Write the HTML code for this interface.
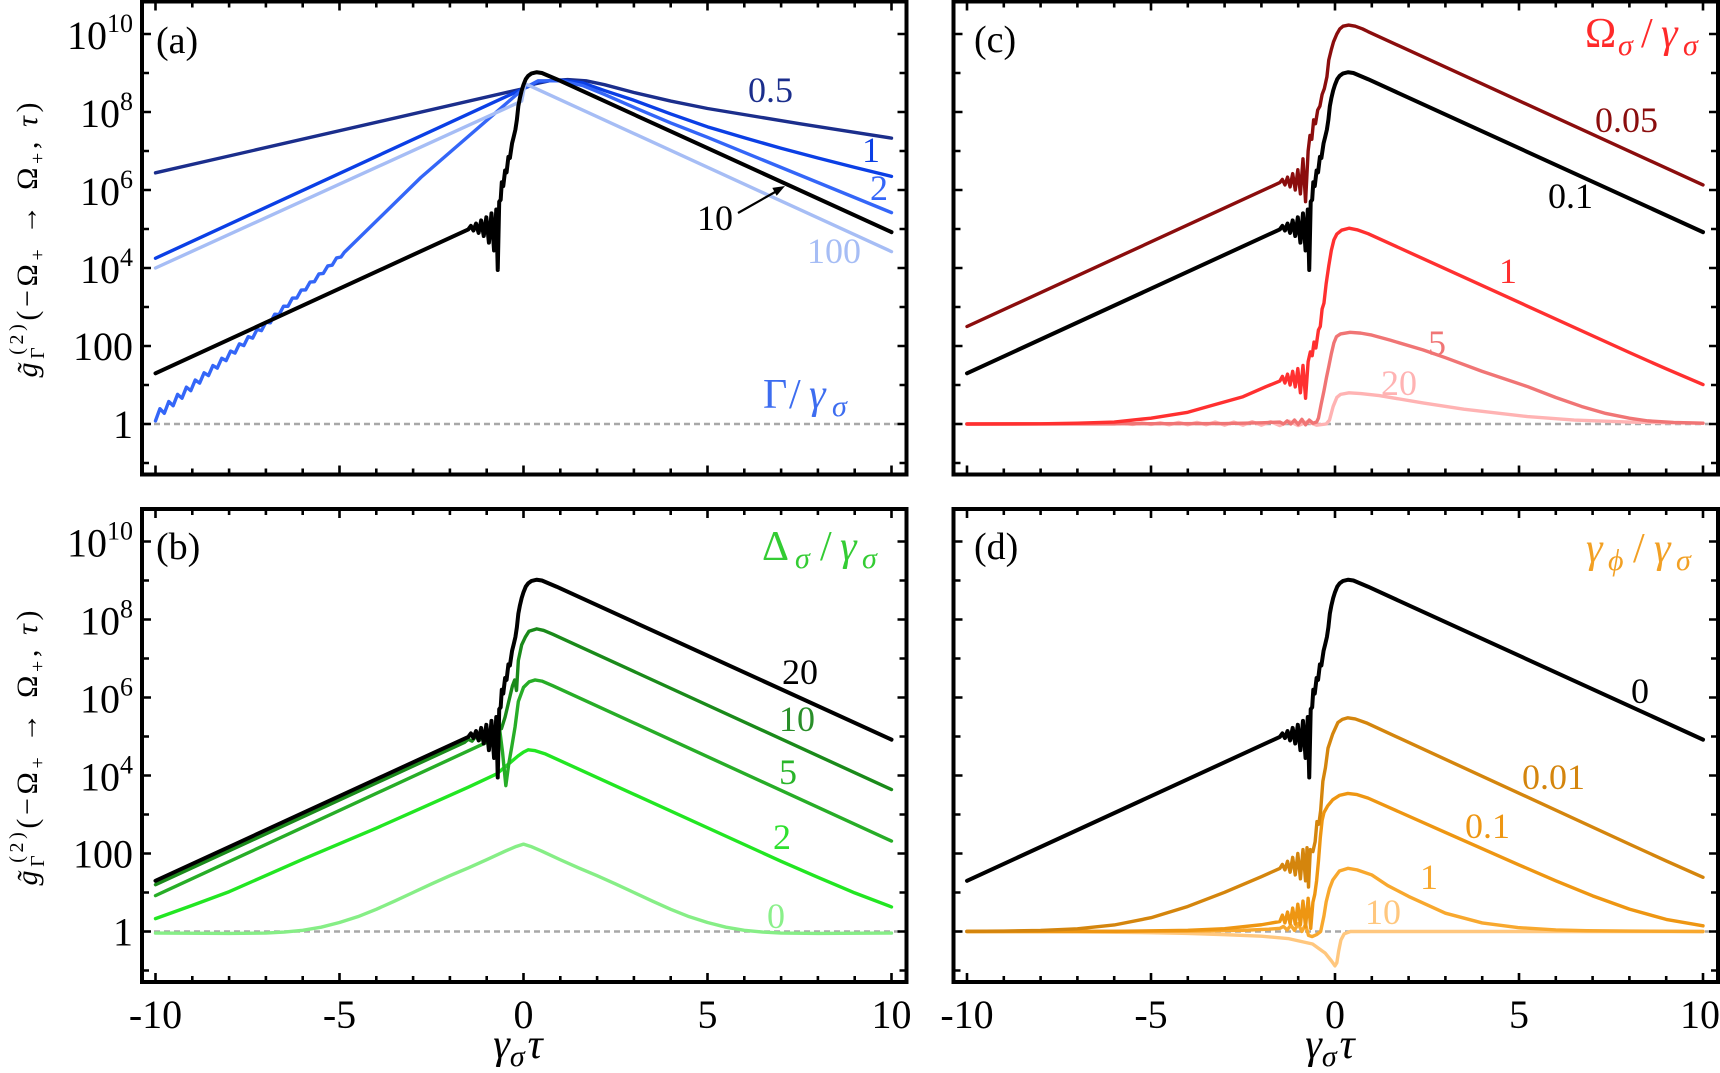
<!DOCTYPE html>
<html><head><meta charset="utf-8"><style>
html,body{margin:0;padding:0;background:#fff;}
svg{display:block;font-family:"Liberation Serif","DejaVu Serif",serif;}
.c{fill:none;stroke-linejoin:round;stroke-linecap:round;vector-effect:non-scaling-stroke;stroke-width:3.4;}
.k{stroke:#000;stroke-width:4;}
.d{stroke:#a8a8a8;stroke-width:2.5;stroke-dasharray:6 4;fill:none;}
.fr{fill:none;stroke:#000;stroke-width:4;}
.tk{fill:none;stroke:#000;stroke-width:2.6;}
</style></head><body>
<svg width="1720" height="1073" viewBox="0 0 1720 1073" xmlns="http://www.w3.org/2000/svg" font-family="Liberation Serif, DejaVu Serif, serif">
<rect width="1720" height="1073" fill="#fff"/>
<defs>
<clipPath id="cA"><rect x="144" y="3.5" width="760.5" height="469"/></clipPath>
<clipPath id="cB"><rect x="144" y="511" width="760.5" height="469"/></clipPath>
<clipPath id="cC"><rect x="955.5" y="3.5" width="760.5" height="469"/></clipPath>
<clipPath id="cD"><rect x="955.5" y="511" width="760.5" height="469"/></clipPath>
<g id="ticks">
<path class="tk" d="M155.5 474.5v-9M192.3 474.5v-6M229.1 474.5v-6M265.9 474.5v-6M302.7 474.5v-6M339.5 474.5v-9M376.3 474.5v-6M413.1 474.5v-6M449.9 474.5v-6M486.7 474.5v-6M523.5 474.5v-9M560.3 474.5v-6M597.1 474.5v-6M633.9 474.5v-6M670.7 474.5v-6M707.5 474.5v-9M744.3 474.5v-6M781.1 474.5v-6M817.9 474.5v-6M854.7 474.5v-6M891.5 474.5v-9
M155.5 1.5v9M192.3 1.5v6M229.1 1.5v6M265.9 1.5v6M302.7 1.5v6M339.5 1.5v9M376.3 1.5v6M413.1 1.5v6M449.9 1.5v6M486.7 1.5v6M523.5 1.5v9M560.3 1.5v6M597.1 1.5v6M633.9 1.5v6M670.7 1.5v6M707.5 1.5v9M744.3 1.5v6M781.1 1.5v6M817.9 1.5v6M854.7 1.5v6M891.5 1.5v9
M142 463h7M142 424h9M142 385h7M142 346h9M142 307h7M142 268h9M142 229h7M142 190h9M142 151h7M142 112h9M142 73h7M142 34h9
M906.5 463h-7M906.5 424h-9M906.5 385h-7M906.5 346h-9M906.5 307h-7M906.5 268h-9M906.5 229h-7M906.5 190h-9M906.5 151h-7M906.5 112h-9M906.5 73h-7M906.5 34h-9"/>
</g>
</defs>

<!-- ===== Panel (a) ===== -->
<g clip-path="url(#cA)">
<path class="d" d="M144 424H905"/>
<g transform="matrix(36.8 0 0 -39 523.5 424)">
<path class="c" stroke="#1b2e8c" d="M-10 6.44L0 8.6L0.3 8.72L0.7 8.8L1.2 8.83L1.7 8.8L2.2 8.7L3 8.5L4 8.28L5 8.09L7.5 7.7L10 7.33"/>
<path class="c" stroke="#0b3fe5" d="M-10 4.25L0 8.6L0.4 8.78L1 8.82L1.6 8.75L2.2 8.55L3 8.3L4 7.95L5 7.62L6 7.34L7 7.07L8 6.82L9 6.58L10 6.35"/>
<path class="c" stroke="#3466f8" d="M-10 0.08L-9.88 0.392L-9.76 0.274L-9.64 0.576L-9.52 0.468L-9.4 0.76L-9.28 0.661L-9.16 0.944L-9.04 0.855L-8.92 1.128L-8.8 1.048L-8.68 1.313L-8.56 1.241L-8.44 1.499L-8.32 1.433L-8.2 1.684L-8.08 1.626L-7.96 1.869L-7.84 1.818L-7.72 2.054L-7.6 2.011L-7.48 2.239L-7.36 2.203L-7.24 2.426L-7.12 2.394L-7 2.611L-6.88 2.595L-6.76 2.816L-6.64 2.806L-6.52 3.022L-6.4 3.017L-6.28 3.228L-6.16 3.229L-6.04 3.434L-5.92 3.439L-5.8 3.64L-5.68 3.65L-5.56 3.847L-5.44 3.861L-5.32 4.052L-5.2 4.071L-5.08 4.259L-4.96 4.282L-4.87 4.4L-2.79 6.32L0 8.6L0.4 8.8L1 8.8L1.6 8.68L2.2 8.45L3 8.12L4 7.72L5 7.35L10 5.42"/>
<path class="c" stroke="#a6bdf5" d="M-10 4L-0.05 8.28L0.04 8.72L0.15 8.68L10 4.42"/>
<path class="c k" d="M-10 1.3L-1.5 4.99L-1.43 5.08L-1.36 4.96L-1.29 5.14L-1.22 4.9L-1.15 5.22L-1.08 4.82L-1.01 5.3L-0.94 4.65L-0.87 5.4L-0.8 4.45L-0.74 5.5L-0.7 3.95L-0.66 5.7L-0.62 5.75L-0.59 6.2L-0.55 6.1L-0.5 6.5L-0.46 6.45L-0.41 6.85L-0.37 6.82L-0.31 7.2L-0.27 7.35L-0.22 7.55L-0.18 7.8L-0.14 8.15L-0.1 8.35L-0.05 8.55L0 8.7L0.06 8.84L0.13 8.93L0.22 8.99L0.36 9.02L0.5 9L0.7 8.92L0.9 8.84L10 4.92"/>
</g>
</g>
<rect class="fr" x="142" y="1.5" width="764.5" height="473"/>
<use href="#ticks"/>
<g font-size="40" text-anchor="end">
<text x="133" y="49">10<tspan font-size="26" dy="-17">10</tspan></text>
<text x="133" y="127">10<tspan font-size="26" dy="-17">8</tspan></text>
<text x="133" y="205">10<tspan font-size="26" dy="-17">6</tspan></text>
<text x="133" y="283">10<tspan font-size="26" dy="-17">4</tspan></text>
<text x="133" y="360">100</text>
<text x="133" y="438">1</text>
</g>
<text x="156" y="53" font-size="38">(a)</text>
<g font-size="36">
<text x="748" y="102" fill="#1b2e8c">0.5</text>
<text x="862" y="162" fill="#0b3fe5">1</text>
<text x="870" y="200" fill="#3466f8">2</text>
<text x="697" y="230" fill="#000">10</text>
<text x="807" y="263" fill="#a6bdf5">100</text>
</g>
<line x1="738" y1="213" x2="776" y2="191.5" stroke="#000" stroke-width="2.2"/>
<polygon points="785,186 776.7,195.7 772.3,187.9" fill="#000"/>
<g font-size="42" fill="#3d6df0">
<text x="763" y="408">Γ</text>
<text x="789" y="408">/</text>
<text x="809" y="408" font-style="italic">γ</text>
<text x="832" y="416" font-size="30" font-style="italic">σ</text>
</g>
<text transform="translate(37,240) rotate(-90)" text-anchor="middle" font-size="30" textLength="275" lengthAdjust="spacing"><tspan font-style="italic">g̃</tspan><tspan font-size="20" dy="7">Γ</tspan><tspan font-size="20" dx="-11" dy="-21">(2)</tspan><tspan dy="14">(−Ω</tspan><tspan font-size="20" dy="7">+</tspan><tspan dy="-7"> → Ω</tspan><tspan font-size="20" dy="7">+</tspan><tspan dy="-7">, </tspan><tspan font-style="italic">τ</tspan><tspan>)</tspan></text>

<!-- ===== Panel (b) ===== -->
<g clip-path="url(#cB)">
<path class="d" d="M144 931.5H905"/>
<g transform="matrix(36.8 0 0 -39 523.5 931.5)">
<path class="c" stroke="#86ee86" d="M-10 -0.04L-8 -0.05L-7 -0.04L-6.5 -0.015L-6 0.03L-5.5 0.11L-5 0.23L-4.5 0.38L-4 0.57L-3.5 0.78L-3 1L-2.5 1.22L-2 1.43L-1.5 1.63L-1 1.84L-0.5 2.06L-0.2 2.18L0 2.24L0.2 2.18L0.5 2.06L1 1.84L1.5 1.63L2 1.43L2.5 1.22L3 1L3.5 0.78L4 0.57L4.5 0.38L5 0.23L5.5 0.11L6 0.03L6.5 -0.015L7 -0.04L8 -0.05L10 -0.04"/>
<path class="c" stroke="#22e622" d="M-10 0.33L-9 0.67L-8 1.02L-6 1.85L-4 2.65L-2.81 3.15L-1.5 3.7L-0.73 4.04L-0.4 4.3L-0.15 4.5L0 4.6L0.13 4.66L0.3 4.64L0.6 4.55L7 1.8L8 1.39L9 0.99L10 0.63"/>
<path class="c" stroke="#27ad27" d="M-10 0.92L-1 4.85L-0.9 4.95L-0.8 4.9L-0.67 5.35L-0.57 4.6L-0.48 3.74L-0.4 4.3L-0.32 4.73L-0.23 5.24L-0.14 5.9L0 6.26L0.15 6.4L0.31 6.45L0.5 6.42L0.8 6.3L10 2.32"/>
<path class="c" stroke="#1a8a1a" d="M-10 1.2L-1.6 4.85L-1.5 4.93L-1.4 4.88L-1.3 5L-1.2 4.9L-1.1 5.08L-1 4.9L-0.9 5.15L-0.8 4.95L-0.7 5.3L-0.6 5.2L-0.5 5.5L-0.4 5.9L-0.3 6.3L-0.24 6.45L-0.19 6.18L-0.14 6.95L-0.05 7.35L0.05 7.55L0.15 7.7L0.36 7.76L0.55 7.72L0.8 7.62L10 3.64"/>
<path class="c k" d="M-10 1.3L-1.5 4.99L-1.43 5.08L-1.36 4.96L-1.29 5.14L-1.22 4.9L-1.15 5.22L-1.08 4.82L-1.01 5.3L-0.94 4.65L-0.87 5.4L-0.8 4.45L-0.74 5.5L-0.7 3.95L-0.66 5.7L-0.62 5.75L-0.59 6.2L-0.55 6.1L-0.5 6.5L-0.46 6.45L-0.41 6.85L-0.37 6.82L-0.31 7.2L-0.27 7.35L-0.22 7.55L-0.18 7.8L-0.14 8.15L-0.1 8.35L-0.05 8.55L0 8.7L0.06 8.84L0.13 8.93L0.22 8.99L0.36 9.02L0.5 9L0.7 8.92L0.9 8.84L10 4.92"/>
</g>
</g>
<rect class="fr" x="142" y="509" width="764.5" height="473"/>
<use href="#ticks" transform="translate(0,507.5)"/>
<g font-size="40" text-anchor="end">
<text x="133" y="556.5">10<tspan font-size="26" dy="-17">10</tspan></text>
<text x="133" y="634.5">10<tspan font-size="26" dy="-17">8</tspan></text>
<text x="133" y="712.5">10<tspan font-size="26" dy="-17">6</tspan></text>
<text x="133" y="790.5">10<tspan font-size="26" dy="-17">4</tspan></text>
<text x="133" y="867.5">100</text>
<text x="133" y="945.5">1</text>
</g>
<g font-size="40" text-anchor="middle">
<text x="155.5" y="1028">-10</text>
<text x="339.5" y="1028">-5</text>
<text x="523.5" y="1028">0</text>
<text x="707.5" y="1028">5</text>
<text x="891.5" y="1028">10</text>
</g>
<text x="518" y="1058" font-size="42" font-style="italic" text-anchor="middle">γ<tspan font-size="30" dy="8">σ</tspan><tspan dy="-8" dx="3">τ</tspan></text>
<text x="156" y="559" font-size="38">(b)</text>
<g font-size="36">
<text x="782" y="684" fill="#000">20</text>
<text x="779" y="731" fill="#2a8f2a">10</text>
<text x="779" y="784" fill="#2ab52a">5</text>
<text x="773" y="849" fill="#2ee02e">2</text>
<text x="767" y="928" fill="#8af08a">0</text>
</g>
<g font-size="42" fill="#33cc33">
<text x="762" y="560">Δ</text>
<text x="795" y="568" font-size="30" font-style="italic">σ</text>
<text x="820" y="560">/</text>
<text x="840" y="560" font-style="italic">γ</text>
<text x="862" y="568" font-size="30" font-style="italic">σ</text>
</g>
<text transform="translate(37,748) rotate(-90)" text-anchor="middle" font-size="30" textLength="275" lengthAdjust="spacing"><tspan font-style="italic">g̃</tspan><tspan font-size="20" dy="7">Γ</tspan><tspan font-size="20" dx="-11" dy="-21">(2)</tspan><tspan dy="14">(−Ω</tspan><tspan font-size="20" dy="7">+</tspan><tspan dy="-7"> → Ω</tspan><tspan font-size="20" dy="7">+</tspan><tspan dy="-7">, </tspan><tspan font-style="italic">τ</tspan><tspan>)</tspan></text>

<!-- ===== Panel (c) ===== -->
<g clip-path="url(#cC)">
<path class="d" d="M955 424H1716"/>
<g transform="matrix(36.8 0 0 -39 1335 424)">
<path class="c" stroke="#ffb3b3" d="M-10 0L-6 0L-5.75 0.02L-5.5 -0.01L-5.25 0.03L-5 -0.01L-4.75 0.03L-4.5 -0.02L-4.25 0.04L-4 -0.02L-3.75 0.04L-3.5 -0.02L-3.25 0.05L-3 -0.03L-2.75 0.05L-2.5 -0.03L-2.25 0.06L-2 -0.03L-1.75 0.06L-1.5 -0.04L-1.25 0.07L-1 -0.04L-0.75 0.06L-0.5 -0.03L-0.24 0L-0.15 0.1L-0.05 0.45L0.05 0.68L0.15 0.76L0.38 0.8L0.7 0.78L1.2 0.73L2.39 0.54L3.5 0.38L5.23 0.19L6.5 0.1L8 0.05L10 0.02"/>
<path class="c" stroke="#f07575" d="M-10 0L-3 0.01L-2 0.03L-1.5 0.05L-1.4 0L-1.3 0.08L-1.2 0L-1.1 0.1L-1 -0.01L-0.9 0.12L-0.8 -0.02L-0.7 0.1L-0.6 0.02L-0.5 0.05L-0.45 0.15L-0.38 0.49L-0.3 0.85L-0.23 1.2L-0.17 1.47L-0.1 1.8L-0.03 2.08L0.04 2.24L0.15 2.31L0.41 2.35L0.7 2.33L1 2.28L1.5 2.15L2.39 1.9L3 1.7L4 1.35L5.23 0.96L6 0.68L6.7 0.45L7.36 0.27L8 0.15L8.5 0.08L9.2 0.04L10 0.02"/>
<path class="c" stroke="#ff3030" d="M-10 0L-8 0.005L-7 0.02L-6 0.05L-5 0.15L-4 0.3L-3.29 0.49L-2.5 0.7L-1.87 0.96L-1.5 1.1L-1.43 1.22L-1.36 1.05L-1.29 1.28L-1.22 1L-1.15 1.35L-1.08 0.95L-1.01 1.42L-0.94 0.8L-0.87 1.5L-0.8 0.66L-0.73 1.6L-0.67 1.85L-0.62 1.75L-0.57 2.1L-0.52 1.95L-0.45 2.41L-0.4 2.5L-0.35 2.95L-0.3 3.1L-0.24 3.6L-0.17 4.05L-0.1 4.45L-0.03 4.72L0.05 4.87L0.18 4.97L0.38 5.02L0.6 4.98L0.9 4.88L8 1.833L9 1.414L10 1.012"/>
<path class="c k" d="M-10 1.3L-1.5 4.99L-1.43 5.08L-1.36 4.96L-1.29 5.14L-1.22 4.9L-1.15 5.22L-1.08 4.82L-1.01 5.3L-0.94 4.65L-0.87 5.4L-0.8 4.45L-0.74 5.5L-0.7 3.95L-0.66 5.7L-0.62 5.75L-0.59 6.2L-0.55 6.1L-0.5 6.5L-0.46 6.45L-0.41 6.85L-0.37 6.82L-0.31 7.2L-0.27 7.35L-0.22 7.55L-0.18 7.8L-0.14 8.15L-0.1 8.35L-0.05 8.55L0 8.7L0.06 8.84L0.13 8.93L0.22 8.99L0.36 9.02L0.5 9L0.7 8.92L0.9 8.84L10 4.92"/>
<path class="c" stroke="#8b0d0d" d="M-10 2.5L-1.5 6.19L-1.43 6.27L-1.36 6.13L-1.29 6.33L-1.22 6.08L-1.15 6.42L-1.08 6L-1.01 6.52L-0.94 5.9L-0.87 6.8L-0.8 5.7L-0.73 7L-0.68 7.4L-0.63 7.3L-0.58 7.8L-0.53 7.7L-0.47 8.05L-0.41 8.15L-0.35 8.45L-0.29 8.6L-0.22 8.9L-0.17 9.33L-0.1 9.6L-0.04 9.8L0.05 10L0.13 10.13L0.22 10.2L0.37 10.23L0.55 10.2L0.75 10.13L0.9 10.06L10 6.13"/>
</g>
</g>
<rect class="fr" x="953.5" y="1.5" width="764.5" height="473"/>
<use href="#ticks" transform="translate(811.5,0)"/>
<text x="974" y="52" font-size="38">(c)</text>
<g font-size="36">
<text x="1595" y="132" fill="#8b0d0d">0.05</text>
<text x="1548" y="208" fill="#000">0.1</text>
<text x="1499" y="283" fill="#ff3030">1</text>
<text x="1428" y="355" fill="#f07575">5</text>
<text x="1381" y="395" fill="#ffb3b3">20</text>
</g>
<g font-size="42" fill="#ff2a2a">
<text x="1585" y="47">Ω</text>
<text x="1618" y="55" font-size="30" font-style="italic">σ</text>
<text x="1641" y="47">/</text>
<text x="1661" y="47" font-style="italic">γ</text>
<text x="1683" y="55" font-size="30" font-style="italic">σ</text>
</g>

<!-- ===== Panel (d) ===== -->
<g clip-path="url(#cD)">
<path class="d" d="M955 931.5H1716"/>
<g transform="matrix(36.8 0 0 -39 1335 931.5)">
<path class="c" stroke="#ffc77e" d="M-10 0L-7 -0.01L-5 -0.03L-4 -0.05L-3 -0.08L-2 -0.12L-1.28 -0.18L-0.61 -0.32L-0.27 -0.55L-0.1 -0.75L0 -0.88L0.05 -0.8L0.1 -0.5L0.16 -0.22L0.25 -0.06L0.42 0L10 0"/>
<path class="c" stroke="#f8a82e" d="M-10 0L-4 0.01L-2.5 0.03L-1.8 0.06L-1.5 0.08L-1.4 0.13L-1.3 0.04L-1.2 0.16L-1.1 0.03L-1 0.2L-0.9 0L-0.8 0.18L-0.72 -0.1L-0.62 -0.13L-0.5 -0.08L-0.39 0L-0.3 0.4L-0.24 0.76L-0.15 1.1L-0.06 1.32L0.12 1.55L0.35 1.62L0.6 1.58L1 1.45L1.43 1.18L2 0.9L3 0.47L4 0.22L4.97 0.1L6 0.04L6.84 0.02L8 0.01L10 0"/>
<path class="c" stroke="#ee9612" d="M-10 0L-6 0.004L-4 0.029L-3 0.073L-2 0.173L-1.5 0.256L-1.43 0.42L-1.36 0.22L-1.29 0.5L-1.22 0.2L-1.15 0.6L-1.08 0.19L-1.01 0.7L-0.94 0.17L-0.87 0.78L-0.8 0.12L-0.73 0.85L-0.66 0.08L-0.6 0.75L-0.55 0.95L-0.5 1.3L-0.45 1.8L-0.4 2.4L-0.35 2.85L-0.3 3.05L-0.2 3.22L-0.06 3.38L0.12 3.49L0.35 3.54L0.6 3.51L0.9 3.42L3 2.54L5 1.707L6 1.3L7 0.914L8 0.573L9 0.31L10 0.145"/>
<path class="c" stroke="#d4850d" d="M-10 0.004L-9 0.01L-8 0.028L-7 0.07L-6 0.167L-5 0.354L-4 0.642L-3 1.005L-2 1.407L-1.5 1.616L-1.43 1.72L-1.36 1.58L-1.29 1.8L-1.22 1.52L-1.15 1.9L-1.08 1.45L-1.01 2L-0.94 1.35L-0.87 2.1L-0.8 1.3L-0.76 2.15L-0.72 1.14L-0.67 2.1L-0.6 2.05L-0.54 2.3L-0.49 2.82L-0.44 2.75L-0.39 3.1L-0.33 3.85L-0.26 4.2L-0.19 4.7L-0.12 4.9L-0.06 5.07L0.08 5.36L0.2 5.44L0.35 5.48L0.55 5.45L0.85 5.35L8 2.24L9 1.81L10 1.39"/>
<path class="c k" d="M-10 1.3L-1.5 4.99L-1.43 5.08L-1.36 4.96L-1.29 5.14L-1.22 4.9L-1.15 5.22L-1.08 4.82L-1.01 5.3L-0.94 4.65L-0.87 5.4L-0.8 4.45L-0.74 5.5L-0.7 3.95L-0.66 5.7L-0.62 5.75L-0.59 6.2L-0.55 6.1L-0.5 6.5L-0.46 6.45L-0.41 6.85L-0.37 6.82L-0.31 7.2L-0.27 7.35L-0.22 7.55L-0.18 7.8L-0.14 8.15L-0.1 8.35L-0.05 8.55L0 8.7L0.06 8.84L0.13 8.93L0.22 8.99L0.36 9.02L0.5 9L0.7 8.92L0.9 8.84L10 4.92"/>
</g>
</g>
<rect class="fr" x="953.5" y="509" width="764.5" height="473"/>
<use href="#ticks" transform="translate(811.5,507.5)"/>
<g font-size="40" text-anchor="middle">
<text x="967" y="1028">-10</text>
<text x="1151" y="1028">-5</text>
<text x="1335" y="1028">0</text>
<text x="1519" y="1028">5</text>
<text x="1700" y="1028">10</text>
</g>
<text x="1330" y="1058" font-size="42" font-style="italic" text-anchor="middle">γ<tspan font-size="30" dy="8">σ</tspan><tspan dy="-8" dx="3">τ</tspan></text>
<text x="974" y="559" font-size="38">(d)</text>
<g font-size="36">
<text x="1631" y="703" fill="#000">0</text>
<text x="1522" y="789" fill="#d4850d">0.01</text>
<text x="1465" y="838" fill="#ee9612">0.1</text>
<text x="1420" y="889" fill="#f8a82e">1</text>
<text x="1365" y="924" fill="#ffc77e">10</text>
</g>
<g font-size="42" fill="#f2a024">
<text x="1586" y="562" font-style="italic">γ</text>
<text x="1608" y="570" font-size="30" font-style="italic">ϕ</text>
<text x="1633" y="562">/</text>
<text x="1654" y="562" font-style="italic">γ</text>
<text x="1676" y="570" font-size="30" font-style="italic">σ</text>
</g>
</svg>
</body></html>
